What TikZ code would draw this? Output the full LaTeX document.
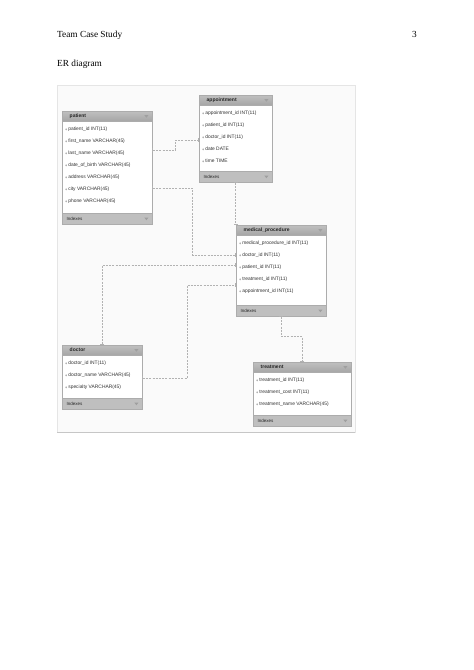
\documentclass[tikz,border=0pt]{standalone}
\usepackage{fontspec}
\setmainfont{Liberation Serif}
\setsansfont{Liberation Sans}
\usepackage{amssymb}
\usetikzlibrary{arrows.meta,calc}

% one table of the ER diagram: name, top left corner, width, height, title, rows
\newcommand{\ertable}[6]{%
  \node[tblbox, minimum width=#3, minimum height=#4] (#1) at (#2) {};
  \node[tblhead, minimum width=#3] (#1-head) at (#1.north) {};
  \node[tbltitle] (#1-title) at ([xshift=7]#1-head.west) {#5};
  \node[tblfoot, minimum width=#3] (#1-foot) at (#1.south) {};
  \node[tbltitle, font=\sffamily\fontsize{4.5}{5}\selectfont] (#1-idx) at ([xshift=4]#1-foot.west) {Indexes};
  \fill[gray!75] ([xshift=-6]#1-head.east) ++(-2,-1) -- ++(4,0) -- ++(-2,2.5) -- cycle;
  \fill[gray!75] ([xshift=-6]#1-foot.east) ++(-2,-1) -- ++(4,0) -- ++(-2,2.5) -- cycle;
  \foreach \r [count=\i] in {#6}
    \node[tblrow] (#1-\i) at ([xshift=3, yshift={-6-12*\i}]#1.north west) {{\color{gray!75}$\scriptscriptstyle\blacklozenge$}\,\r};
}

\begin{document}
\begin{tikzpicture}[x=1pt, y=-1pt,
  pagetext/.style={font=\fontsize{9.3}{11}\selectfont, inner sep=0pt},
  tblbox/.style={draw=gray!65, fill=white, anchor=north west, inner sep=0pt},
  tblhead/.style={anchor=north, minimum height=10, inner sep=0pt, draw=gray!65,
    top color=gray!50, bottom color=gray!70},
  tblfoot/.style={anchor=south, minimum height=11, inner sep=0pt, draw=gray!65, fill=gray!50},
  tbltitle/.style={anchor=west, inner sep=0.5pt, text=black!85, font=\sffamily\bfseries\fontsize{5}{6}\selectfont},
  tblrow/.style={anchor=west, inner sep=0pt, text=black!80, font=\sffamily\fontsize{4.9}{5.5}\selectfont},
  conn/.style={draw=gray!60, line width=0.5pt, dash pattern=on 2pt off 1.2pt,
    {Bar[width=4pt,line width=0.7pt]}-{Bar[width=4pt,line width=0.7pt]}}
]
\useasboundingbox (0,0) rectangle (474,670);

% page
\node[pagetext, anchor=base west] (title) at (57,37) {Team Case Study};
\node[pagetext, anchor=base east] (pagenum) at (417,37) {3};
\node[pagetext, anchor=base west] (heading) at (57,66) {ER diagram};

% canvas of the diagram
\node[draw=gray!20, fill=gray!4, anchor=north west, minimum width=298, minimum height=347, inner sep=0pt] (canvas) at (57,85) {};
\draw[gray!45, line width=1pt] (canvas.south west) -- (canvas.south east);

% tables
\ertable{patient}{62,111}{90}{113}{patient}{patient\_id INT(11), first\_name VARCHAR(45), last\_name VARCHAR(45), date\_of\_birth VARCHAR(45), address VARCHAR(45), city VARCHAR(45), phone VARCHAR(45)}
\ertable{appointment}{199,95}{73}{87}{appointment}{appointment\_id INT(11), patient\_id INT(11), doctor\_id INT(11), date DATE, time TIME}
\ertable{medproc}{236,225}{90}{91}{medical\_procedure}{medical\_procedure\_id INT(11), doctor\_id INT(11), patient\_id INT(11), treatment\_id INT(11), appointment\_id INT(11)}
\ertable{doctor}{62,345}{80}{64}{doctor}{doctor\_id INT(11), doctor\_name VARCHAR(45), specialty VARCHAR(45)}
\ertable{treatment}{253,362}{98}{64}{treatment}{treatment\_id INT(11), treatment\_cost INT(11), treatment\_name VARCHAR(45)}

% relationships
\path[conn] ([yshift=-39]patient.north east) -- ++(23,0) |- ([yshift=-45]appointment.north west);
\path[conn] ([yshift=-77]patient.north east) -- ++(40,0) |- ([yshift=-30]medproc.north west);
\path[conn] (appointment.south) -- (appointment.south |- medproc.north);
\path[conn] (doctor.north) |- ([yshift=-40]medproc.north west);
\path[conn] ([yshift=-33]doctor.north east) -- ++(45,0) |- ([yshift=-60]medproc.north west);
\path[conn] (medproc.south) -- ++(0,20) -| (treatment.north);
\end{tikzpicture}
\end{document}
